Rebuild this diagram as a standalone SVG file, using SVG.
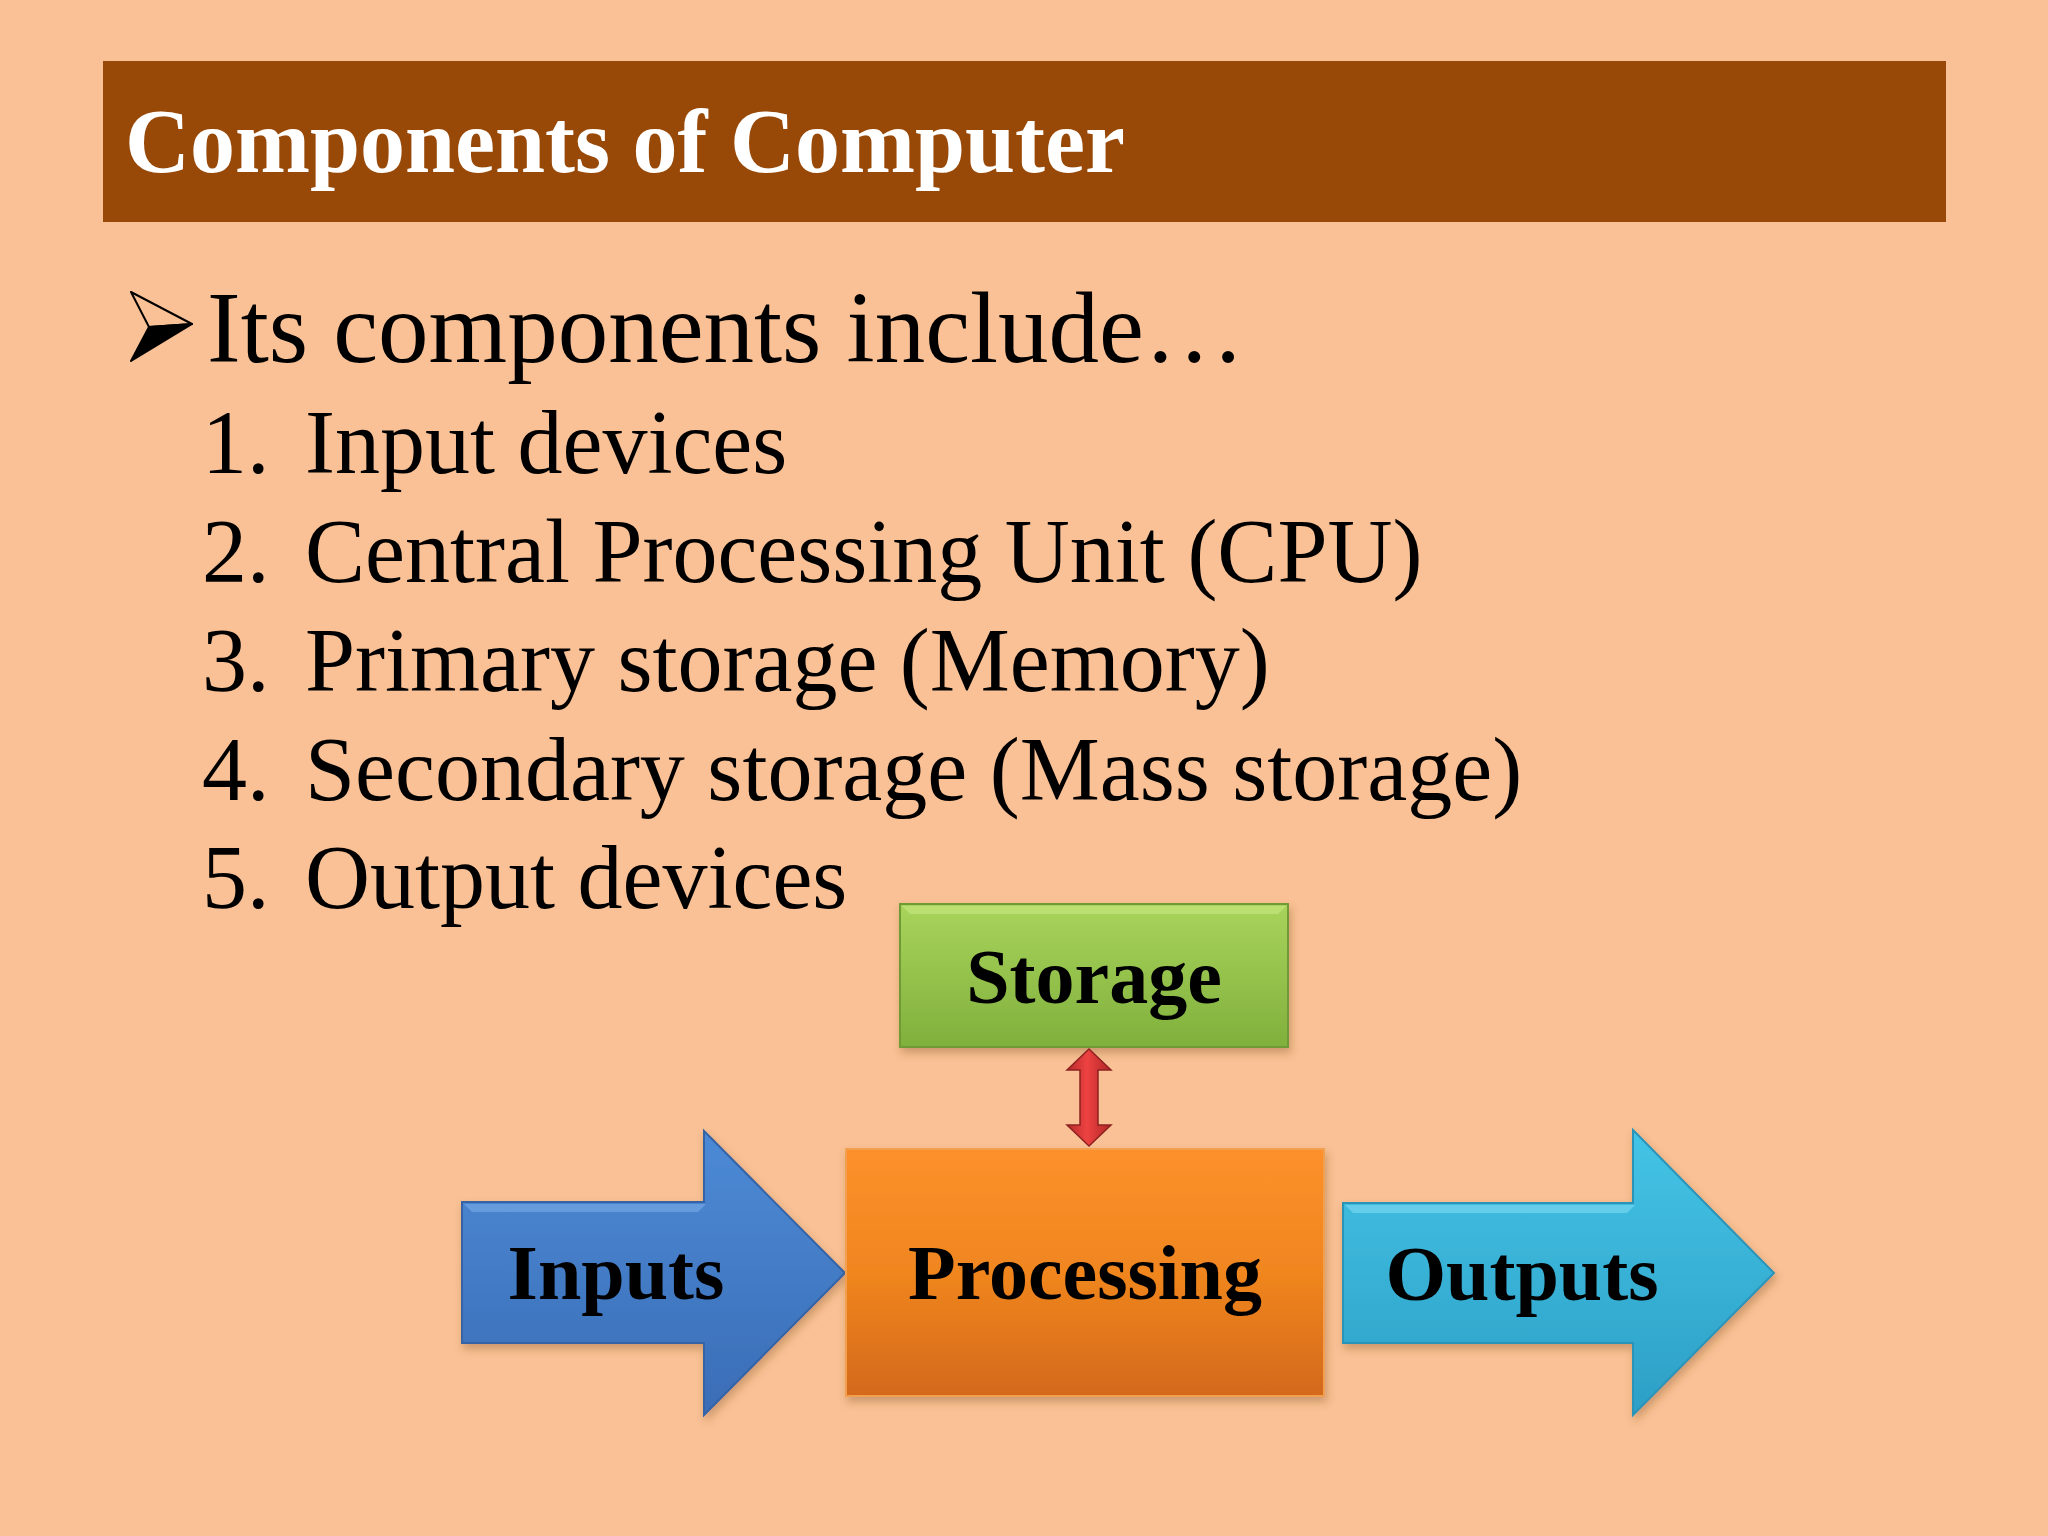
<svg xmlns="http://www.w3.org/2000/svg" width="2048" height="1536" viewBox="0 0 2048 1536">
<defs>
<style>
.serif{font-family:"Liberation Serif","Times New Roman",serif;fill:#000}
.title{font-family:"Liberation Serif","Times New Roman",serif;font-weight:bold;font-size:90px;fill:#fff}
.head{font-size:101px}
.item{font-size:90px}
.lbl{font-family:"Liberation Serif","Times New Roman",serif;font-weight:bold;font-size:78px;fill:#000;text-anchor:middle}
</style>
<linearGradient id="gGreen" x1="0" y1="0" x2="0" y2="1">
<stop offset="0" stop-color="#a9d45c"/><stop offset="1" stop-color="#80b03c"/>
</linearGradient>
<linearGradient id="gOrange" x1="0" y1="0" x2="0" y2="1">
<stop offset="0" stop-color="#fd902b"/><stop offset="0.5" stop-color="#f0861f"/><stop offset="1" stop-color="#d4691b"/>
</linearGradient>
<linearGradient id="gBlue" x1="0" y1="0" x2="0" y2="1">
<stop offset="0" stop-color="#4d8ad6"/><stop offset="1" stop-color="#3a6db6"/>
</linearGradient>
<linearGradient id="gCyan" x1="0" y1="0" x2="0" y2="1">
<stop offset="0" stop-color="#44c4e6"/><stop offset="1" stop-color="#2d9fc6"/>
</linearGradient>
<linearGradient id="gRed" x1="0" y1="0" x2="1" y2="0">
<stop offset="0" stop-color="#b52a2a"/><stop offset="0.45" stop-color="#ee4242"/><stop offset="1" stop-color="#b02626"/>
</linearGradient>
<filter id="sh" x="-10%" y="-10%" width="130%" height="130%">
<feDropShadow dx="2" dy="5" stdDeviation="4" flood-color="#7a4a20" flood-opacity="0.35"/>
</filter>
</defs>
<rect width="2048" height="1536" fill="#f9c195"/>
<g id="title">
<rect x="103" y="61" width="1843" height="161" fill="#984807"/>
<text class="title" x="125" y="172">Components of Computer</text>
</g>
<g id="bullet-list">
<path d="M131,292 L192,324 L149,327 Z" fill="#f9c195" stroke="#000" stroke-width="2" stroke-linejoin="round"/>
<path d="M149,327 L192,324 L131,361 Z" fill="#000" stroke="#000" stroke-width="2" stroke-linejoin="round"/>
<text class="serif head" x="207" y="362">Its components include…</text>
<text class="serif item" x="202" y="473">1.</text><text class="serif item" x="305" y="473">Input devices</text>
<text class="serif item" x="202" y="582">2.</text><text class="serif item" x="305" y="582">Central Processing Unit (CPU)</text>
<text class="serif item" x="202" y="691">3.</text><text class="serif item" x="305" y="691">Primary storage (Memory)</text>
<text class="serif item" x="202" y="800">4.</text><text class="serif item" x="305" y="800">Secondary storage (Mass storage)</text>
<text class="serif item" x="202" y="908">5.</text><text class="serif item" x="305" y="908">Output devices</text>
</g>
<g id="storage">
<rect x="900" y="904" width="388" height="143" fill="url(#gGreen)" stroke="#6f9a34" stroke-width="2" filter="url(#sh)"/>
<path d="M902,906 L1286,906 L1278,914 L910,914 Z" fill="#c3e57a" opacity="0.7"/>
<text class="lbl" x="1094" y="1003">Storage</text>
</g>
<g id="inputs">
<polygon points="462,1202 704,1202 704,1131 845,1273 704,1415 704,1343 462,1343" fill="url(#gBlue)" stroke="#3464a6" stroke-width="2" stroke-linejoin="miter" filter="url(#sh)"/>
<path d="M464,1204 L706,1204 L698,1212 L472,1212 Z" fill="#7aaee8" opacity="0.6"/>
<text class="lbl" x="616" y="1299">Inputs</text>
</g>
<g id="processing">
<rect x="846" y="1149" width="478" height="247" fill="url(#gOrange)" stroke="#f2a050" stroke-width="2" filter="url(#sh)"/>
<text class="lbl" x="1085" y="1299">Processing</text>
</g>
<g id="outputs">
<polygon points="1343,1203 1633,1203 1633,1130 1774,1273 1633,1415 1633,1343 1343,1343" fill="url(#gCyan)" stroke="#2c94b8" stroke-width="2" stroke-linejoin="miter" filter="url(#sh)"/>
<path d="M1345,1205 L1635,1205 L1627,1213 L1353,1213 Z" fill="#7fdaf2" opacity="0.6"/>
<text class="lbl" x="1522" y="1300">Outputs</text>
</g>
<g id="connectors">
<polygon points="1089,1049 1111,1070 1098,1070 1098,1125 1111,1125 1089,1146 1067,1125 1080,1125 1080,1070 1067,1070" fill="url(#gRed)" stroke="#8e2020" stroke-width="1.5" stroke-linejoin="miter"/>
</g>
</svg>
